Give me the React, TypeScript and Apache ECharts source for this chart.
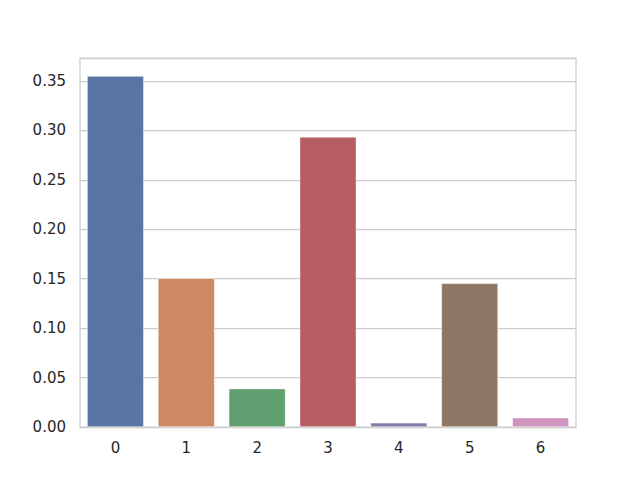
import React, { useEffect, useRef } from 'react';
import * as echarts from 'echarts';

const categories = ['0', '1', '2', '3', '4', '5', '6'];
const values = [0.355, 0.1505, 0.0388, 0.2935, 0.0042, 0.1453, 0.0094];
const barColors = ['#5875a4', '#cc8963', '#5f9e6e', '#b55d60', '#857aab', '#8d7866', '#d095bf'];

const App: React.FC = () => {
    const chartRef = useRef<HTMLDivElement>(null);

    useEffect(() => {
        if (!chartRef.current) return;
        const chart = echarts.init(chartRef.current, undefined, { renderer: 'svg' });

        chart.setOption({
            animation: false,
            backgroundColor: '#ffffff',
            textStyle: { fontFamily: 'DejaVu Sans' },
            grid: {
                left: 80,
                top: 58,
                width: 496,
                height: 369,
                show: true,
                borderColor: '#cccccc',
                borderWidth: 1.25,
                backgroundColor: 'transparent'
            },
            xAxis: {
                type: 'category',
                data: categories,
                axisLine: { show: false },
                axisTick: { show: false },
                axisLabel: { color: '#262626', fontSize: 15, margin: 13 },
                splitLine: { show: false }
            },
            yAxis: {
                type: 'value',
                min: 0,
                max: 0.3733,
                interval: 0.05,
                axisLine: { show: false },
                axisTick: { show: false },
                axisLabel: {
                    color: '#262626',
                    fontSize: 15,
                    margin: 14,
                    formatter: (v: number) => v.toFixed(2),
                    showMaxLabel: false
                },
                splitLine: { lineStyle: { color: '#cccccc', width: 1.25 } }
            },
            series: [
                {
                    type: 'bar',
                    barCategoryGap: '20%',
                    data: values.map((v, i) => ({
                        value: v,
                        itemStyle: { color: barColors[i], borderColor: '#ffffff', borderWidth: 0.5 }
                    }))
                }
            ]
        });

        return () => {
            chart.dispose();
        };
    }, []);

    return (
        <div
            ref={chartRef}
            style={{ position: 'fixed', left: 0, top: 0, width: 640, height: 480 }}
        />
    );
};

export default App;
